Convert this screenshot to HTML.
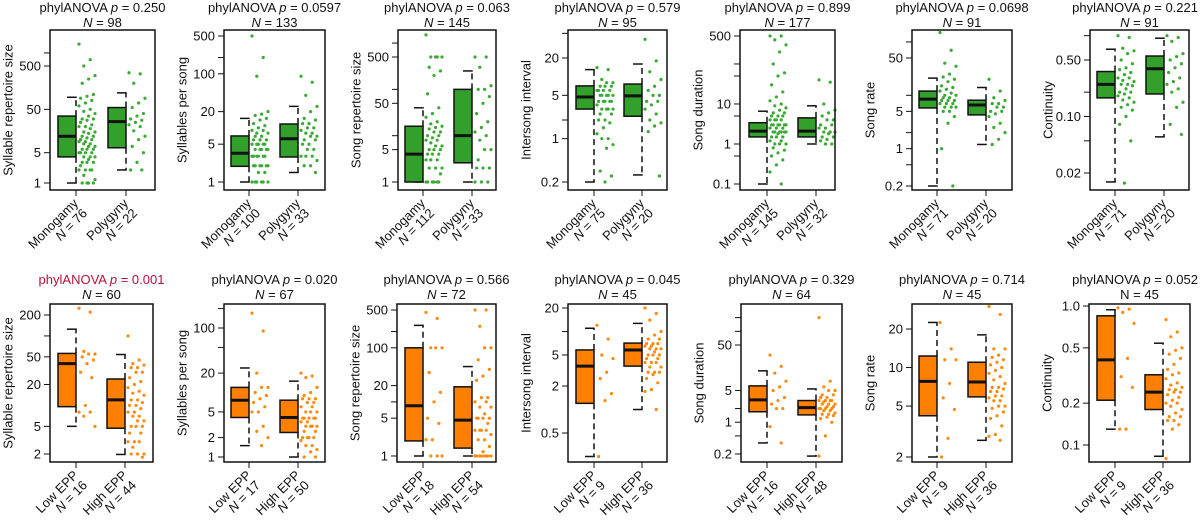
<!DOCTYPE html>
<html><head><meta charset="utf-8">
<style>
html,body{margin:0;padding:0;background:#fff;}
svg{display:block;font-family:"Liberation Sans",Arial,sans-serif;}
</style></head>
<body>
<svg id="fig" width="1200" height="522" viewBox="0 0 1200 522" xmlns="http://www.w3.org/2000/svg"></svg>
<script>
// ---------- DATA (top row: mating system, green; bottom row: EPP, orange) ----------
const titlesP = ["0.250","0.0597","0.063","0.579","0.899","0.0698","0.221","0.001","0.020","0.566","0.045","0.329","0.714","0.052"];
const titlesN = [98,133,145,95,177,91,91,60,67,72,45,64,45,45];
const yTitles = ["Syllable repertoire size","Syllables per song","Song repertoire size","Intersong interval","Song duration","Song rate","Continuity",
                 "Syllable repertoire size","Syllables per song","Song repertoire size","Intersong interval","Song duration","Song rate","Continuity"];
const groupNamesTop = ["Monogamy","Polygyny"];
const groupNamesBot = ["Low EPP","High EPP"];
const groupN = [[76,22],[100,33],[112,33],[75,20],[145,32],[71,20],[71,20],[16,44],[17,50],[18,54],[9,36],[16,48],[9,36],[9,36]];
const tickLabels = [
 ["1","5","50","500"],["1","5","20","100","500"],["1","5","50","500"],["0.2","1","5","20"],["0.1","1","10","500"],["0.2","1","5","50"],["0.02","0.10","0.50"],
 ["2","5","20","50","200"],["1","2","5","20","100"],["1","5","20","100","500"],["0.5","2","5","20"],["0.2","1","5","50"],["2","5","10","20"],["0.1","0.2","0.5","1.0"]];
const minorTicks = [[1000],[200],[10,100,1000],[2,50],[0.5,5,50,100],[0.5,2,10,100],[0.05,0.2,1],[100],[50,200],[10,200],[10],[0.5,2,100,200],[],[]];
// box stats: [lower whisker, q1, median, q3, upper whisker]
const boxStats = [
 [[1,4,12,35,95],[2,6.5,26,55,120]],
 [[1,1.95,3.4,7.1,15],[1.5,2.9,6.3,11.8,25]],
 [[1,1,4,16,40],[1,2.6,10,100,250]],
 [[0.2,3.0,4.7,7.1,13],[0.26,2.3,4.9,7.6,16]],
 [[0.1,1.5,2.1,3.4,6.6],[1,1.5,2.1,4.5,9]],
 [[0.2,5.8,8.5,12,21],[1.2,4.3,6.6,8.1,14]],
 [[0.0155,0.17,0.25,0.36,0.68],[0.056,0.19,0.39,0.56,0.93]],
 [[5,9.6,40,56,125],[1.97,4.7,12,24,54]],
 [[1.5,4.1,7.6,12,24],[1,2.4,4.1,7.6,15]],
 [[1,1.9,8.5,100,260],[1,1.4,4.6,19,45]],
 [[0.25,1.2,3.6,5.8,11],[1.0,3.6,5.8,7.1,12.7]],
 [[0.35,1.7,3.1,6.3,13.5],[0.18,1.45,2.1,3,5.4]],
 [[2,4.2,7.8,12.3,22.5],[2.7,5.9,7.7,11,18]],
 [[0.13,0.21,0.41,0.85,0.94],[0.083,0.18,0.24,0.32,0.54]]];
// raw observations per group
const points = [
 [[1600,700,500,300,250,200,110,100,90,80,70,60,50,45,40,35,30,30,28,25,22,20,20,18,15,15,14,12,12,11,10,10,9,9,8,8,7,7,6,6,6,5,5,5,5,4,4,4,3.5,3,3,3,2.5,2,2,2,2,1.5,1.2,1,1,1,1],
  [350,330,200,90,70,55,40,35,30,28,25,22,20,16,12,10,7,5,3,2,2]],
 [[500,200,90,20,18,17,15,14,12,11,10,9,9,8,8,7,7,6,6,6,5,5,5,5,5,4,4,4,4,4,3,3,3,3,3,3,2,2,2,2,2,2,1.5,1.5,1,1,1,1,1,1],
  [90,70,40,25,20,15,14,12,12,10,10,9,8,8,7,7,6,6,5,5,4,4,3,3,3,2.5,2,2,1.5]],
 [[1500,500,500,500,500,300,250,200,80,40,30,25,20,18,16,15,14,12,12,10,10,9,8,8,7,6,6,5,5,5,4,4,4,3,3,3,2,2,2,1.5,1,1,1,1,1,1],
  [500,500,300,120,100,100,70,50,30,20,15,12,10,8,5,5,3,2,2,2,1,1,1]],
 [[14,13,9,8,8,7,7,7,6,6,6,6,5,5,5,5,5,4,4,4,4,4,3.5,3,3,3,3,2.5,2.5,2,2,1.8,1.5,1.2,1,1,0.8,0.7,0.3,0.25,0.2],
  [40,18,12,9,7,6,5,5,4,4,3.5,3,2.5,2,1.8,1.6,1.3,0.25]],
 [[500,500,400,300,200,100,60,50,30,20,15,12,10,9,8,7,6,6,5,5,5,4,4,4,4,3,3,3,3,3,3,2.5,2.5,2.5,2,2,2,2,2,2,1.8,1.5,1.5,1.5,1.2,1.2,1,1,1,0.8,0.7,0.6,0.5,0.4,0.3,0.2,0.1],
  [40,35,10,7,6,5,4,4,3,3,2.5,2.5,2,2,2,1.8,1.5,1.5,1.3,1.2,1,1]],
 [[150,70,40,35,25,22,20,18,15,14,13,12,11,10,10,9,9,8,8,8,7,7,7,6,6,6,5,5,4,3,1,0.2],
  [20,12,9,8,7,7,6,6,5,5,4.5,4,3,2.5,2,1.5,1.2]],
 [[1.0,0.95,0.7,0.65,0.6,0.5,0.45,0.4,0.38,0.35,0.33,0.3,0.3,0.28,0.27,0.25,0.25,0.24,0.22,0.2,0.2,0.19,0.18,0.17,0.16,0.15,0.14,0.13,0.12,0.1,0.08,0.05,0.015],
  [1.0,0.95,0.85,0.6,0.55,0.5,0.45,0.4,0.35,0.3,0.27,0.25,0.22,0.2,0.15,0.13,0.08,0.06]],
 [[250,220,60,55,55,50,45,40,30,25,10,8,8,7,5],
  [100,45,40,38,35,35,30,30,25,22,20,18,16,15,14,12,12,11,10,10,9,8,8,7,7,6,6,5,5,5,4,4,3,3,3,2.5,2,2,2,1.8]],
 [[170,90,20,12,12,10,9,8,7,6,5,5,3,2.5,2,1.5],
  [20,18,17,12,10,9,8,8,8,7,7,6,6,5,5,5,4,4,4,4,4,3.5,3.5,3,3,3,3,2.5,2.5,2,2,2,2,1.8,1.5,1.5,1.3,1.2,1,1]],
 [[450,350,100,100,100,35,15,10,5,4,2,2,1,1,1],
  [500,500,250,100,100,60,40,30,25,12,12,10,10,8,8,6,5,5,5,5,4,3,3,3,3,2.5,2,2,1.5,1.2,1,1,1,1,1,1,1,1]],
 [[12,8,5,4.5,3,2.5,1.6,1.3,0.25],
  [20,17,14,10,9,8,8,7,7,7,6.5,6.5,6,6,6,5.5,5,5,5,4.5,4.5,4,4,4,3.5,3.5,3,3,3,2.8,2.5,2.2,1.8,1.7,1.0]],
 [[30,17,12,8,6,5,3.5,3,2.5,2,2,0.8,0.35],
  [200,8,6,5,5,4,4,3.5,3.5,3,3,3,3,2.8,2.5,2.5,2.5,2.2,2.2,2,2,2,2,1.8,1.8,1.6,1.5,1.5,1.4,1.3,1.2,1,0.5,0.18]],
 [[22.5,14,11.5,11.5,7.5,5.8,4.7,2.8,2],
  [30,26,14,14,12.5,12,11.5,11,10.5,10,9.5,9,8.5,8,7.5,7,7,6.8,6.5,6.5,6,6,5.8,5.5,5.5,5,5,4.8,4.5,4.2,4,3.5,3,2.9,2.7]],
 [[0.97,0.95,0.9,0.75,0.42,0.31,0.26,0.13,0.13],
  [0.8,0.65,0.6,0.5,0.48,0.45,0.42,0.38,0.35,0.33,0.32,0.3,0.28,0.27,0.26,0.25,0.25,0.24,0.24,0.23,0.22,0.21,0.2,0.2,0.19,0.18,0.17,0.16,0.16,0.15,0.15,0.14,0.13,0.08]]];

// ---------- LAYOUT ----------
const layout = [
 {l:50,r:155,t:30,b:190,g:[76,126],ref:[1,183,500,66]},
 {l:224,r:325,t:30,b:190,g:[249,298],ref:[1,182,500,36]},
 {l:398,r:496,t:30,b:190,g:[423,472],ref:[1,182,500,57]},
 {l:568,r:667,t:30,b:190,g:[594,642],ref:[0.2,182,20,58]},
 {l:740,r:835,t:30,b:190,g:[767,816],ref:[0.1,184,500,36]},
 {l:912,r:1012,t:30,b:190,g:[937,986],ref:[0.2,186,50,58]},
 {l:1090,r:1189,t:30,b:190,g:[1115,1164],ref:[0.02,173,0.5,60]},
 {l:50,r:153,t:304,b:462,g:[76,125],ref:[2,454,200,315]},
 {l:224,r:325,t:304,b:462,g:[249,298],ref:[1,457,100,328]},
 {l:397,r:496,t:304,b:462,g:[423,472],ref:[1,456,500,310]},
 {l:568,r:667,t:304,b:462,g:[594,642],ref:[0.5,433,20,308]},
 {l:741,r:842,t:304,b:462,g:[767,816],ref:[0.2,454,50,345]},
 {l:912,r:1012,t:304,b:462,g:[937,986],ref:[2,457,20,329]},
 {l:1089,r:1190,t:304,b:462,g:[1115,1163],ref:[0.1,445,1.0,306]}];

const NS="http://www.w3.org/2000/svg";
const svg=document.getElementById('fig');
function mk(tag,attrs,parent){const e=document.createElementNS(NS,tag);for(const k in attrs)e.setAttribute(k,attrs[k]);(parent||svg).appendChild(e);return e;}

layout.forEach((L,pi)=>{
  const top = pi<7;
  const fill = top ? "#33a02c" : "#ff7f00";
  const ptCol = top ? "#3aaa35" : "#ff8a10";
  const g=mk('g',{});
  
  
  const [v1,y1,v2,y2]=L.ref;
  const k=(y2-y1)/(Math.log10(v2)-Math.log10(v1));
  const Y=v=>y1+(Math.log10(v)-Math.log10(v1))*k;
  // title
  const ty = top?12:284;
  const lastCol = (pi===6||pi===13);
  const t1=mk('text',{x:lastCol?1198:(L.l+L.r)/2,y:ty,'text-anchor':lastCol?'end':'middle','font-size':13,fill:(pi===7?'#b5133b':'#111')},g);
  
  
  t1.appendChild(document.createTextNode('phylANOVA '));
  const it=mk('tspan',{'font-style':'italic'},t1); it.textContent='p';
  t1.appendChild(document.createTextNode(' = '+titlesP[pi]));
  const t2=mk('text',{x:(L.l+L.r)/2,y:ty+15,'text-anchor':'middle','font-size':13,fill:'#111'},g);
  
  
  const it2=mk('tspan',{'font-style':(pi===13?'normal':'italic')},t2); it2.textContent='N';
  t2.appendChild(document.createTextNode(' = '+titlesN[pi]));
  // y ticks
  tickLabels[pi].forEach(lab=>{
    const yy=Y(parseFloat(lab));
    mk('line',{x1:L.l-6,x2:L.l,y1:yy,y2:yy,stroke:'#111','stroke-width':1},g);
    const tl=mk('text',{x:L.l-9,y:yy+4.5,'text-anchor':'end','font-size':13,fill:'#111'},g);
    
    
    tl.textContent=lab;
  });
  minorTicks[pi].forEach(v=>{const yy=Y(v);mk('line',{x1:L.l-6,x2:L.l,y1:yy,y2:yy,stroke:'#111','stroke-width':1},g);});
  // y title
  const cy=(L.t+L.b)/2, cx=L.l-41;
  const yt=mk('text',{x:cx,y:cy,'text-anchor':'middle','font-size':13,fill:'#111','dominant-baseline':'middle',transform:`rotate(-90 ${cx} ${cy})`},g);
  
  
  yt.textContent=yTitles[pi];
  // groups
  const names = top?groupNamesTop:groupNamesBot;
  L.g.forEach((gx,gi)=>{
    const s=boxStats[pi][gi];
    const wl=mk('line',{x1:gx,x2:gx,y1:Y(s[3]),y2:Y(s[4]),stroke:'#111','stroke-width':1.5,'stroke-dasharray':'6,4'},g);
    
    
    const wl2=mk('line',{x1:gx,x2:gx,y1:Y(s[1]),y2:Y(s[0]),stroke:'#111','stroke-width':1.5,'stroke-dasharray':'6,4'},g);
    
    
    mk('line',{x1:gx-9,x2:gx+0.75,y1:Y(s[4]),y2:Y(s[4]),stroke:'#111','stroke-width':1.5},g);
    mk('line',{x1:gx-9,x2:gx+0.75,y1:Y(s[0]),y2:Y(s[0]),stroke:'#111','stroke-width':1.5},g);
    const bx=mk('rect',{x:gx-18,y:Y(s[3]),width:18,height:Y(s[1])-Y(s[3]),fill:fill,stroke:'#111','stroke-width':1.5},g);
    
    
    const md=mk('line',{x1:gx-18,x2:gx,y1:Y(s[2]),y2:Y(s[2]),stroke:'#111','stroke-width':3},g);
    
    
    points[pi][gi].forEach((v,i)=>{
      const jx=gx+3+(((i*7)%11)/10)*16;
      const c=mk('circle',{cx:jx,cy:Y(v),r:1.6,fill:ptCol},g);
      
      
    });
    mk('line',{x1:gx,x2:gx,y1:L.b,y2:L.b+6,stroke:'#111','stroke-width':1},g);
    const bY=L.b+14;
    const xl=mk('text',{x:gx+3,y:bY,'text-anchor':'end','font-size':13,fill:'#111',transform:`rotate(-45 ${gx+3} ${bY})`},g);
    
    
    xl.textContent=names[gi];
    const nx=gx+12, ny=bY+10;
    const xn=mk('text',{x:nx,y:ny,'text-anchor':'end','font-size':13,fill:'#111',transform:`rotate(-45 ${nx} ${ny})`},g);
    
    
    const ni=mk('tspan',{'font-style':'italic'},xn); ni.textContent='N';
    xn.appendChild(document.createTextNode(' = '+groupN[pi][gi]));
  });
  const fr=mk('rect',{x:L.l,y:L.t,width:L.r-L.l,height:L.b-L.t,fill:'none',stroke:'#111','stroke-width':1.5},g);
  
  
});
</script>
</body></html>
